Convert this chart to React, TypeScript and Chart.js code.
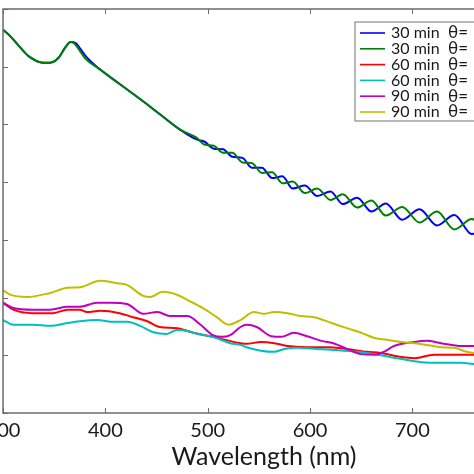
import { useEffect, useRef } from "react";
import { Chart, registerables, type ChartConfiguration, type Plugin } from "chart.js";

Chart.register(...registerables);

// axis ticks
const xTickValues = [300, 400, 500, 600, 700, 800];
const yTickValues = [0, 1, 2, 3, 4, 5, 6, 7];

// legend text
const legendTimes = ["30 min", "30 min", "60 min", "60 min", "90 min", "90 min"];
const legendAngles = ["0°", "90°", "0°", "90°", "0°", "90°"];
const seriesColors = ["#0000ff", "#008000", "#ff0000", "#00bfbf", "#bf00bf", "#bfbf00"];

// 30 min, first angle (blue)
const blueNm = [
  300, 307, 317, 326, 339, 346, 354, 361, 366, 371, 376, 381, 395, 414, 434, 453, 473,
  489, 497, 506, 515, 524, 534, 543, 553, 563, 573, 583, 595, 607, 620, 632, 646, 660,
  674, 690, 707, 724, 741, 758, 776,
];
const blueAbs = [
  6.64, 6.53, 6.33, 6.17, 6.07, 6.07, 6.15, 6.34, 6.43, 6.41, 6.3, 6.18, 5.95, 5.7, 5.44,
  5.18, 4.91, 4.74, 4.7, 4.58, 4.57, 4.44, 4.42, 4.25, 4.25, 4.07, 4.1, 3.89, 3.94, 3.76,
  3.84, 3.62, 3.73, 3.49, 3.63, 3.35, 3.53, 3.25, 3.43, 3.1, 3.3,
];

// 30 min, second angle (green)
const greenNm = [
  300, 307, 317, 326, 339, 346, 354, 361, 366, 370, 375, 380, 395, 414, 434, 453, 473,
  489, 497, 506, 515, 524, 534, 543, 553, 563, 573, 583, 595, 607, 620, 632, 646, 660,
  674, 690, 707, 724, 741, 758, 776,
];
const greenAbs = [
  6.64, 6.53, 6.33, 6.17, 6.07, 6.07, 6.15, 6.34, 6.43, 6.4, 6.28, 6.15, 5.95, 5.7, 5.44,
  5.18, 4.91, 4.77, 4.65, 4.63, 4.51, 4.51, 4.34, 4.33, 4.16, 4.17, 3.98, 4.01, 3.81, 3.89,
  3.69, 3.79, 3.56, 3.68, 3.42, 3.57, 3.3, 3.49, 3.18, 3.36, 3.02,
];

// 60 min, first angle (red)
const redNm = [
  300, 310, 329, 349, 363, 375, 382, 395, 414, 427, 441, 453, 470, 486, 505, 532, 538,
  552, 565, 578, 597, 617, 636, 656, 669, 689, 702, 721, 741, 760, 775,
];
const redAbs = [
  1.91, 1.79, 1.73, 1.73, 1.79, 1.79, 1.75, 1.77, 1.73, 1.66, 1.59, 1.49, 1.47, 1.39,
  1.32, 1.21, 1.2, 1.23, 1.21, 1.16, 1.14, 1.14, 1.11, 1.06, 1.04, 0.97, 0.95, 1.01, 1.01,
  1.01, 1.01,
];

// 60 min, second angle (cyan)
const cyanNm = [
  300, 310, 329, 346, 363, 375, 392, 408, 421, 434, 447, 460, 470, 480, 490, 505, 522,
  532, 538, 552, 565, 575, 587, 607, 626, 646, 666, 685, 709, 728, 748, 760, 775,
];
const cyanAbs = [
  1.61, 1.53, 1.53, 1.51, 1.56, 1.59, 1.61, 1.58, 1.58, 1.51, 1.4, 1.37, 1.44, 1.42, 1.37,
  1.32, 1.21, 1.18, 1.14, 1.08, 1.06, 1.11, 1.13, 1.11, 1.09, 1.06, 1.01, 0.95, 0.88, 0.87,
  0.87, 0.85, 0.84,
];

// 90 min, first angle (magenta)
const magentaNm = [
  300, 310, 329, 346, 363, 375, 392, 405, 421, 437, 451, 463, 480, 493, 505, 514, 522,
  532, 538, 548, 562, 572, 584, 597, 611, 624, 636, 650, 663, 672, 682, 702, 714, 728,
  748, 760, 775,
];
const magentaAbs = [
  1.91, 1.82, 1.79, 1.79, 1.84, 1.84, 1.91, 1.91, 1.89, 1.72, 1.75, 1.68, 1.68, 1.53, 1.35,
  1.32, 1.35, 1.49, 1.53, 1.49, 1.33, 1.32, 1.39, 1.33, 1.25, 1.2, 1.11, 1.02, 1.01, 1.06,
  1.16, 1.23, 1.25, 1.21, 1.16, 1.16, 1.15,
];

// 90 min, second angle (yellow)
const yellowNm = [
  300, 307, 324, 346, 363, 375, 395, 411, 421, 437, 444, 456, 470, 480, 495, 509, 520,
  532, 545, 555, 565, 578, 591, 604, 621, 636, 650, 663, 675, 689, 702, 714, 728, 741,
  753, 760, 775,
];
const yellowAbs = [
  2.13, 2.05, 2.01, 2.08, 2.17, 2.18, 2.29, 2.25, 2.22, 2.03, 2.01, 2.1, 2.05, 1.96, 1.82,
  1.66, 1.53, 1.61, 1.75, 1.72, 1.75, 1.73, 1.68, 1.66, 1.56, 1.47, 1.39, 1.3, 1.27, 1.23,
  1.21, 1.18, 1.14, 1.13, 1.06, 1.04, 1.01,
];

const seriesNm = [blueNm, greenNm, redNm, cyanNm, magentaNm, yellowNm];
const seriesAbs = [blueAbs, greenAbs, redAbs, cyanAbs, magentaAbs, yellowAbs];

const FONT = "Lato, 'Open Sans', sans-serif";
const FRAME = "#6b6b6b";

const framePlugin: Plugin<"line"> = {
  id: "frameAndLegend",
  afterDatasetsDraw(chart) {
    const { ctx, chartArea } = chart;
    const { left, right, top, bottom } = chartArea;
    const xs = chart.scales.x;
    const ys = chart.scales.y;
    ctx.save();
    ctx.strokeStyle = FRAME;
    ctx.lineWidth = 1.5;
    ctx.strokeRect(left, top, right - left, bottom - top);
    ctx.lineWidth = 1;
    ctx.beginPath();
    for (const t of xs.ticks) {
      const px = Math.round(xs.getPixelForValue(t.value)) + 0.5;
      ctx.moveTo(px, bottom);
      ctx.lineTo(px, bottom - 5);
      ctx.moveTo(px, top);
      ctx.lineTo(px, top + 5);
    }
    for (const t of ys.ticks) {
      const py = Math.round(ys.getPixelForValue(t.value)) + 0.5;
      ctx.moveTo(left, py);
      ctx.lineTo(left + 5, py);
      ctx.moveTo(right, py);
      ctx.lineTo(right - 5, py);
    }
    ctx.stroke();

    // legend box inside the plot, top right
    const bx = left + 352;
    const by = top + 13;
    const rowH = 15.8;
    ctx.fillStyle = "#ffffff";
    ctx.fillRect(bx, by, 220, 99);
    ctx.strokeStyle = "#8a8a8a";
    ctx.lineWidth = 1.2;
    ctx.strokeRect(bx, by, 220, 99);
    ctx.font = `16px ${FONT}`;
    ctx.textBaseline = "middle";
    chart.data.datasets.forEach((ds, i) => {
      const ry = by + 11 + i * rowH;
      ctx.strokeStyle = ds.borderColor as string;
      ctx.lineWidth = 1.6;
      ctx.beginPath();
      ctx.moveTo(bx + 5, ry);
      ctx.lineTo(bx + 30, ry);
      ctx.stroke();
      ctx.fillStyle = "#1a1a1a";
      ctx.fillText(legendTimes[i], bx + 36, ry);
      ctx.font = `17px ${FONT}`;
      ctx.fillText("θ=", bx + 93, ry);
      ctx.fillText(legendAngles[i], bx + 121, ry);
      ctx.font = `16px ${FONT}`;
    });
    ctx.restore();
  },
};

export default function App() {
  const canvasRef = useRef<HTMLCanvasElement | null>(null);
  const chartRef = useRef<Chart<"line"> | null>(null);

  useEffect(() => {
    const canvas = canvasRef.current;
    if (!canvas) {
      return;
    }
    chartRef.current?.destroy();

    const config: ChartConfiguration<"line"> = {
      type: "line",
      data: {
        datasets: seriesNm.map((nm, i) => ({
          label: `${legendTimes[i]} θ=${legendAngles[i]}`,
          data: nm.map((x, j) => ({ x, y: seriesAbs[i][j] })),
          borderColor: seriesColors[i],
          backgroundColor: seriesColors[i],
          borderWidth: 2,
          pointRadius: 0,
          fill: false,
          cubicInterpolationMode: "monotone",
          // later series drawn on top, like the original plot
          order: seriesNm.length - i,
        })),
      },
      options: {
        animation: false,
        responsive: true,
        maintainAspectRatio: false,
        layout: { padding: { left: 63, right: 25, top: 9, bottom: 0 } },
        plugins: {
          legend: { display: false },
          tooltip: { enabled: false },
        },
        scales: {
          x: {
            type: "linear",
            min: 300,
            max: 810,
            afterBuildTicks(scale) {
              scale.ticks = xTickValues.map((value) => ({ value }));
            },
            afterFit(scale) {
              scale.height = 61;
            },
            grid: { display: false, drawTicks: false },
            border: { display: false },
            ticks: {
              color: "#1a1a1a",
              padding: 6,
              font: { family: FONT, size: 20 },
              maxRotation: 0,
            },
            title: {
              display: true,
              text: "Wavelength (nm)",
              color: "#1a1a1a",
              font: { family: FONT, size: 25 },
              padding: { top: 0, bottom: 2 },
            },
          },
          y: {
            type: "linear",
            min: 0,
            max: 7,
            afterBuildTicks(scale) {
              scale.ticks = yTickValues.map((value) => ({ value }));
            },
            afterFit(scale) {
              scale.width = 0;
            },
            grid: { display: false, drawTicks: false },
            border: { display: false },
            ticks: { display: false },
          },
        },
      },
      plugins: [framePlugin],
    };

    chartRef.current = new Chart(canvas, config);
    return () => {
      chartRef.current?.destroy();
      chartRef.current = null;
    };
  }, []);

  return (
    <div
      style={{
        position: "absolute",
        left: 0,
        top: 0,
        width: 474,
        height: 474,
        overflow: "hidden",
        background: "#ffffff",
      }}
    >
      <div style={{ position: "absolute", left: -60, top: 0, width: 610, height: 474 }}>
        <canvas ref={canvasRef} />
      </div>
    </div>
  );
}
